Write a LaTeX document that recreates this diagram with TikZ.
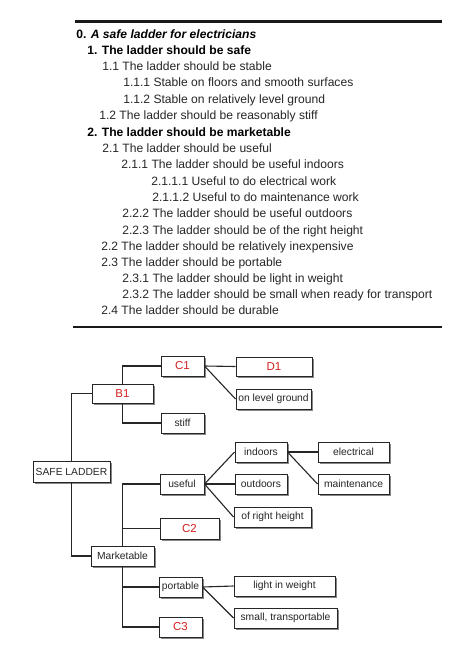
\documentclass[tikz,border=0pt]{standalone}
\usepackage{fontspec}
\setmainfont{Liberation Sans}
\usetikzlibrary{shadows}
\definecolor{txt}{HTML}{262626}
\definecolor{lbl}{HTML}{D42020}
\begin{document}
\begin{tikzpicture}[x=1pt,y=-1pt,
  line/.style={txt, line width=0.6pt, anchor=base west, inner sep=0pt, font=\fontsize{12.1}{13}\selectfont},
  hdr/.style={line, black, font=\fontsize{12.1}{13}\selectfont\bfseries},
  box/.style={draw=black!85, line width=1pt, fill=white, inner sep=0pt, text=txt,
    font=\fontsize{10.3}{11}\selectfont,
    drop shadow={shadow xshift=1.8pt, shadow yshift=-1.8pt, fill=black!55, opacity=0.85}},
  red/.style={text=lbl, font=\fontsize{11.5}{12}\selectfont},
  conn/.style={draw=black!85, line width=1.1pt}]
\useasboundingbox (0,0) rectangle (456,653);
\fill[white] (0,0) rectangle (456,653);
% rules
\coordinate (r1a) at (75,21.5); \coordinate (r1b) at (442,21.5);
\coordinate (r2a) at (73,326.5); \coordinate (r2b) at (442,326.5);
\draw[black!90, line width=3pt] (r1a) -- (r1b);
\draw[black!90, line width=2pt] (r2a) -- (r2b);
% outline text
\node[hdr] (t0) at (76,38) {0. \textit{A safe ladder for electricians}};
\node[hdr] (t1) at (87,54) {1. The ladder should be safe};
\node[line] (t11) at (102,70.5) {1.1 The ladder should be stable};
\node[line] (t111) at (123,86.5) {1.1.1 Stable on floors and smooth surfaces};
\node[line] (t112) at (123,103) {1.1.2 Stable on relatively level ground};
\node[line] (t12) at (99,119) {1.2 The ladder should be reasonably stiff};
\node[hdr] (t2) at (87,136) {2. The ladder should be marketable};
\node[line] (t21) at (102,152) {2.1 The ladder should be useful};
\node[line] (t211) at (121,168.5) {2.1.1 The ladder should be useful indoors};
\node[line] (t2111) at (151,185) {2.1.1.1 Useful to do electrical work};
\node[line] (t2112) at (152,201) {2.1.1.2 Useful to do maintenance work};
\node[line] (t222) at (122,217.5) {2.2.2 The ladder should be useful outdoors};
\node[line] (t223) at (122,234) {2.2.3 The ladder should be of the right height};
\node[line] (t22) at (101,250) {2.2 The ladder should be relatively inexpensive};
\node[line] (t23) at (101,266) {2.3 The ladder should be portable};
\node[line] (t231) at (122,282) {2.3.1 The ladder should be light in weight};
\node[line] (t232) at (122,298.5) {2.3.2 The ladder should be small when ready for transport};
\node[line] (t24) at (101,314) {2.4 The ladder should be durable};
% diagram boxes
\node[box, red, minimum width=43pt, minimum height=20pt] (C1) at (182.5,366) {C1};
\node[box, red, minimum width=61pt, minimum height=19pt] (B1) at (122.5,393.5) {B1};
\node[box, minimum width=43pt, minimum height=20pt] (stiff) at (182.5,423) {stiff};
\node[box, minimum width=77pt, minimum height=21pt] (SL) at (71.5,471.5) {SAFE LADDER};
\node[box, minimum width=44pt, minimum height=20pt] (useful) at (182,484) {useful};
\node[box, red, minimum width=59pt, minimum height=21pt] (C2) at (189.5,528.5) {C2};
\node[box, minimum width=63pt, minimum height=20pt] (Mk) at (122.5,556) {Marketable};
\node[box, minimum width=43pt, minimum height=20pt] (portable) at (180.5,587) {portable};
\node[box, red, minimum width=43pt, minimum height=20pt] (C3) at (180.5,627) {C3};
\node[box, red, minimum width=76pt, minimum height=19pt] (D1) at (274,366.5) {D1};
\node[box, minimum width=75pt, minimum height=20pt] (olg) at (273.5,399) {on level ground};
\node[box, minimum width=52pt, minimum height=20pt] (indoors) at (261,452) {indoors};
\node[box, minimum width=71pt, minimum height=20pt] (electrical) at (353.5,452) {electrical};
\node[box, minimum width=71pt, minimum height=20pt] (maint) at (353.5,484) {maintenance};
\node[box, minimum width=52pt, minimum height=20pt] (outdoors) at (261,484) {outdoors};
\node[box, minimum width=77pt, minimum height=20pt] (orh) at (272.5,517) {of right height};
\node[box, minimum width=101pt, minimum height=20pt] (liw) at (284.5,586) {light in weight};
\node[box, minimum width=103pt, minimum height=20pt] (st) at (285.5,618) {small, transportable};
% connectors
\draw[conn] (SL.north) |- (B1.west);
\draw[conn] (SL.south) |- (Mk.west);
\draw[conn] (B1.north) |- (C1.west);
\draw[conn] (B1.south) |- (stiff.west);
\draw[conn] (Mk.north) |- (useful.west);
\draw[conn] (Mk.north) |- (C2.west);
\draw[conn] (Mk.south) |- (portable.west);
\draw[conn] (Mk.south) |- (C3.west);
\draw[conn] (C1.east) -- (D1.west);
\draw[conn] (C1.east) -- (olg.west);
\draw[conn] (useful.east) -- (indoors.west);
\draw[conn] (useful.east) -- (outdoors.west);
\draw[conn] (useful.east) -- (orh.west);
\draw[conn] (indoors.east) -- (electrical.west);
\draw[conn] (indoors.east) -- (maint.west);
\draw[conn] (portable.east) -- (liw.west);
\draw[conn] (portable.east) -- (st.west);
\end{tikzpicture}
\end{document}
